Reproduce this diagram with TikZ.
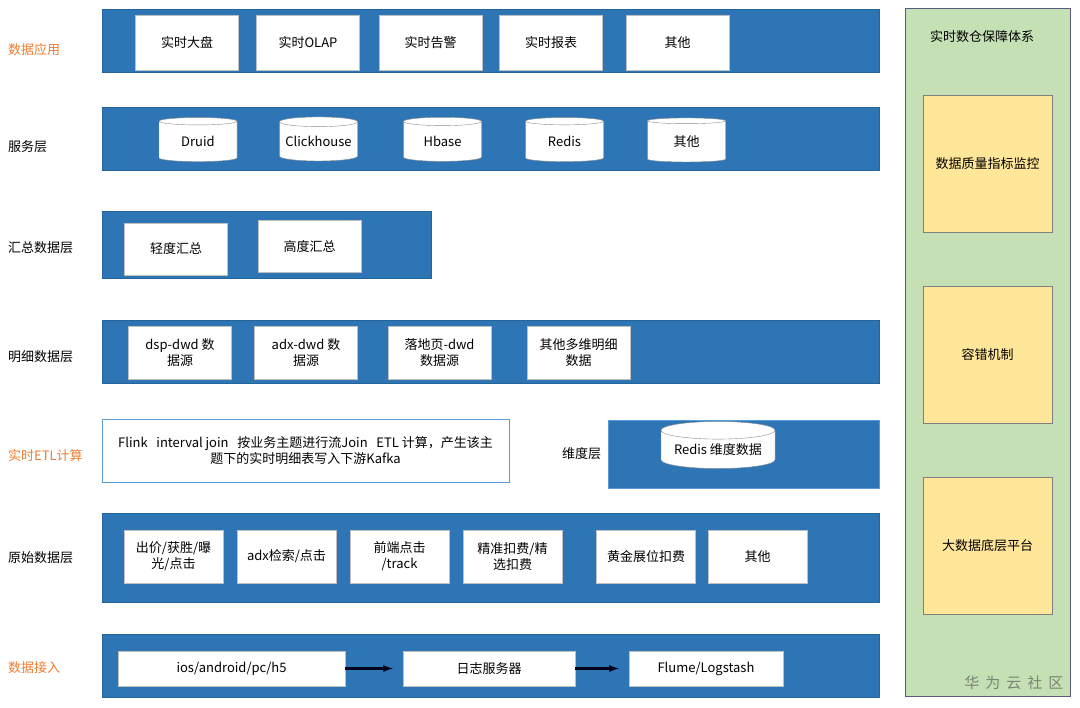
\documentclass[tikz,border=0pt]{standalone}
\usepackage{fontspec}
\setmainfont{Noto Sans CJK SC}
\usetikzlibrary{shapes.geometric,positioning}
\definecolor{bandblue}{HTML}{2E75B6}
\definecolor{lineblue}{HTML}{5B9BD5}
\definecolor{layerorange}{HTML}{ED7D31}
\definecolor{panelgreen}{HTML}{C5E0B4}
\definecolor{boxyellow}{HTML}{FFE699}
\tikzset{
  txt/.style={font=\fontsize{13}{16}\selectfont},
  layer/.style={txt, anchor=west, inner sep=0pt},
  hot/.style={layer, text=layerorange},
  band/.style={fill=bandblue, draw=bandblue!85!black, line width=0.6pt, inner sep=0pt},
  cell/.style={txt, draw=black!25, fill=white, align=center, inner sep=0pt, minimum height=53pt, minimum width=103pt},
  db/.style={txt, cylinder, shape border rotate=90, aspect=0.22, draw=black!45, fill=white, inner sep=0pt, minimum width=78pt, minimum height=44pt},
  guard/.style={txt, draw=black!50, fill=boxyellow, minimum width=129pt, minimum height=137pt},
  feed/.style={-latex, line width=2.2pt, draw=black!90!blue, shorten >=10pt}
}
\begin{document}
\begin{tikzpicture}[x=1pt, y=-1pt]
\useasboundingbox (0,0) rectangle (1080,708);
% layer names
\node[hot] (lapp) at (8,50) {数据应用};
\node[layer] (lsrv) at (8,147) {服务层};
\node[layer] (lsum) at (8,248) {汇总数据层};
\node[layer] (ldwd) at (8,357) {明细数据层};
\node[hot] (letl) at (8,456) {实时ETL计算};
\node[layer] (lods) at (8,558) {原始数据层};
\node[hot] (ling) at (8,668) {数据接入};
% bands
\node[band, minimum width=777pt, minimum height=63pt] (app) at (490.5,40.5) {};
\node[band, minimum width=777pt, minimum height=63pt] (srv) at (490.5,138.5) {};
\node[band, minimum width=329pt, minimum height=67pt] (sum) at (266.5,244.5) {};
\node[band, minimum width=777pt, minimum height=63pt] (dwd) at (490.5,351.5) {};
\node[band, draw=lineblue, minimum width=271pt, minimum height=68pt] (dim) at (743.5,454) {};
\node[band, minimum width=777pt, minimum height=89pt] (ods) at (490.5,557.5) {};
\node[band, minimum width=777pt, minimum height=63pt] (ing) at (490.5,665.5) {};
% 数据应用
\node[cell, minimum height=55pt] (dash) at (187,42.5) {实时大盘};
\node[cell, minimum height=55pt] (olap) at (308,42.5) {实时OLAP};
\node[cell, minimum height=55pt] (alarm) at (430.5,42.5) {实时告警};
\node[cell, minimum height=55pt] (report) at (551,42.5) {实时报表};
\node[cell, minimum height=55pt] (appx) at (677.5,42.5) {其他};
% 服务层
\node[db] (druid) at (198,141.5) {Druid};
\node[db] (ck) at (318.5,141.5) {\makebox[44pt]{Clickhouse}};
\node[db] (hbase) at (442.5,141.5) {Hbase};
\node[db] (redis) at (564.5,141.5) {Redis};
\node[db] (srvx) at (686.5,141.5) {其他};
% 汇总数据层
\node[cell, minimum height=52pt] (light) at (176,249) {轻度汇总};
\node[cell, minimum height=52pt] (heavy) at (309.5,246.5) {高度汇总};
% 明细数据层
\node[cell] (dsp) at (180,352.5) {dsp-dwd 数\\据源};
\node[cell] (adx) at (306,352.5) {adx-dwd 数\\据源};
\node[cell] (land) at (439.5,352.5) {落地页-dwd\\数据源};
\node[cell] (dwdx) at (578.5,352.5) {其他多维明细\\数据};
% 实时ETL计算
\node[txt, draw=lineblue, line width=0.8pt, fill=white, align=center, minimum width=407pt, minimum height=63pt] (etl) at (305.5,450.5) {Flink\ \ \ interval join\ \ \ 按业务主题进行流Join\ \ \ ETL 计算，产生该主\\题下的实时明细表写入下游Kafka};
\node[txt, left=3pt of dim] (ldim) {维度层};
\node[db, minimum width=114pt, minimum height=47pt] (rdim) at (718,449.5) {\makebox[80pt]{Redis 维度数据}};
% 原始数据层
\node[cell, minimum width=99pt] (bid) at (173.5,556.5) {出价/获胜/曝\\光/点击};
\node[cell, minimum width=99pt] (adxs) at (286.5,556.5) {adx检索/点击};
\node[cell, minimum width=99pt] (click) at (399.5,556.5) {前端点击\\/track};
\node[cell, minimum width=99pt] (fee) at (512.5,556.5) {精准扣费/精\\选扣费};
\node[cell, minimum width=99pt] (gold) at (646,556.5) {黄金展位扣费};
\node[cell, minimum width=99pt] (odsx) at (757.5,556.5) {其他};
% 数据接入
\node[cell, minimum width=227pt, minimum height=35pt] (client) at (231.5,668.5) {ios/android/pc/h5};
\node[cell, minimum width=172pt, minimum height=35pt] (logsrv) at (489,668.5) {日志服务器};
\node[cell, minimum width=154pt, minimum height=35pt] (flume) at (706,668.5) {Flume/Logstash};
\draw[feed] (client) -- (logsrv);
\draw[feed] (logsrv) -- (flume);
% 保障体系
\node[draw=black!45!blue!30!gray, fill=panelgreen, line width=0.8pt, minimum width=165pt, minimum height=688pt] (guard) at (987.5,352) {};
\node[txt] (gtitle) at (982,37) {实时数仓保障体系};
\node[guard] (quality) at (987.5,164) {数据质量指标监控};
\node[guard] (fault) at (987.5,354.5) {容错机制};
\node[guard] (base) at (987.5,545.5) {大数据底层平台};
\node[font=\fontsize{15}{17}\selectfont, text=black!40!panelgreen!60!gray, anchor=east] (mark) at (1067,683) {华\hspace{6pt}为\hspace{6pt}云\hspace{6pt}社\hspace{6pt}区};
\end{tikzpicture}
\end{document}
